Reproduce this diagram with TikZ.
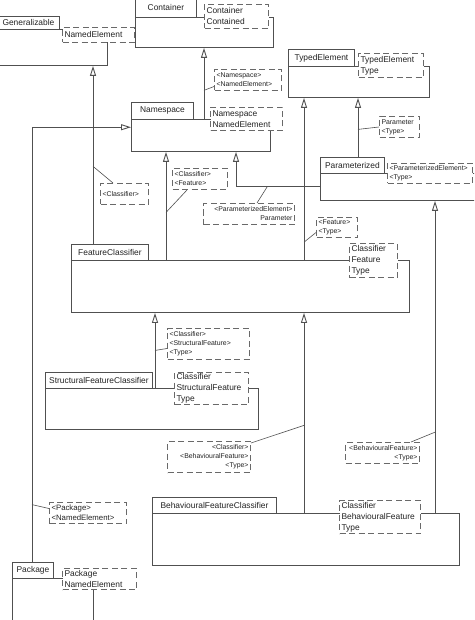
\documentclass[tikz,border=0pt]{standalone}
\usepackage{fontspec}
\setmainfont{Liberation Sans}
\usetikzlibrary{arrows.meta,calc}
\definecolor{linegray}{RGB}{80,80,80}
\definecolor{dashgray}{RGB}{105,105,105}
\definecolor{inkgray}{RGB}{35,35,35}
\newcommand{\clsfont}{\fontsize{8.4}{11}\selectfont}
\newcommand{\notefont}{\fontsize{6.9}{9}\selectfont}

\begin{document}
\begin{tikzpicture}[x=1pt,y=-1pt,
  body/.style={draw=linegray,fill=white,line width=0.9pt,anchor=north west,
    inner sep=0pt},
  tab/.style={body,font=\clsfont,text=inkgray,minimum height=16pt},
  tmpl/.style={draw=dashgray,fill=white,line width=1pt,
    dash pattern=on 6pt off 3.5pt,anchor=north west,inner xsep=2pt,
    inner ysep=0pt,align=left,font=\clsfont,text=inkgray},
  note/.style={tmpl,font=\notefont},
  gen/.style={draw=linegray,line width=0.9pt,
    -{Triangle[open,length=10pt,width=6pt]}},
  link/.style={draw=linegray,line width=0.6pt}]

\useasboundingbox (0,0) rectangle (474,620);
\fill[white] (0,0) rectangle (474,620);
\clip (0,0) rectangle (474,620);

% class bodies and name tabs
\node[body,minimum width=110pt,minimum height=36pt] (gen-body) at (-3,29) {};
\node[tab,minimum width=62pt,minimum height=13pt] (gen-tab) at (-3,16)
  {Generalizable};
\node[body,minimum width=138pt,minimum height=30pt] (ct-body) at (135,17) {};
\node[tab,minimum width=61pt,minimum height=20pt] (ct-tab) at (135,-3)
  {Container};
\node[body,minimum width=141pt,minimum height=31pt] (te-body) at (288,66) {};
\node[tab,minimum width=66pt,minimum height=17pt] (te-tab) at (288,49)
  {TypedElement};
\node[body,minimum width=139pt,minimum height=32pt] (ns-body) at (131,119) {};
\node[tab,minimum width=62pt,minimum height=17pt] (ns-tab) at (131,102)
  {Namespace};
\node[body,minimum width=170pt,minimum height=27pt] (par-body) at (320,173) {};
\node[tab,minimum width=64pt] (par-tab) at (320,157) {Parameterized};
\node[body,minimum width=338pt,minimum height=52pt] (fc-body) at (71,260) {};
\node[tab,minimum width=77pt] (fc-tab) at (71,244) {FeatureClassifier};
\node[body,minimum width=213pt,minimum height=41pt] (sfc-body) at (45,388) {};
\node[tab,minimum width=107pt] (sfc-tab) at (45,372)
  {StructuralFeatureClassifier};
\node[body,minimum width=307pt,minimum height=52pt] (bfc-body) at (152,513) {};
\node[tab,minimum width=124pt] (bfc-tab) at (152,497)
  {BehaviouralFeatureClassifier};
\node[body,minimum width=81pt,minimum height=50pt] (pkg-body) at (12,578) {};
\node[tab,minimum width=41pt] (pkg-tab) at (12,562) {Package};

% generalizations
\coordinate (fc-a) at ($(fc-tab.north west)+(22,0)$);
\coordinate (fc-b) at ($(fc-body.north west)+(95,0)$);
\coordinate (fc-c) at ($(fc-body.north west)+(233,0)$);
\coordinate (pkg-a) at ($(pkg-tab.north west)+(20,0)$);
\coordinate (ns-a) at ($(ns-body.north west)+(73,0)$);
\coordinate (par-a) at ($(par-tab.north west)+(38,0)$);
\coordinate (sfc-a) at ($(sfc-body.north west)+(110,0)$);
\coordinate (bfc-a) at ($(bfc-body.north west)+(152,0)$);
\coordinate (bfc-b) at ($(bfc-body.north west)+(283,0)$);

\draw[gen] (fc-a) -- (fc-a |- gen-body.south) coordinate[pos=0.436] (fc-a-tap);
\draw[gen] (pkg-a) |- ($(ns-body.north west)!0.25!(ns-body.south west)$)
  coordinate[pos=0.066] (pkg-a-tap);
\draw[gen] (ns-a) -- (ns-a |- ct-body.south) coordinate[pos=0.403] (ns-a-tap);
\draw[gen] (fc-b) -- (fc-b |- ns-body.south) coordinate[pos=0.44] (fc-b-tap);
\draw[gen] (par-body.west) -| ($(ns-body.south west)+(105,0)$)
  coordinate[pos=0.315] (par-w-tap);
\draw[gen] (fc-c) -- (fc-c |- te-body.south) coordinate[pos=0.11] (fc-c-tap);
\draw[gen] (par-a) -- (par-a |- te-body.south)
  coordinate[pos=0.467] (par-a-tap);
\draw[gen] (sfc-a) -- (sfc-a |- fc-body.south) coordinate[pos=0.5] (sfc-a-tap);
\draw[gen] (bfc-a) -- (bfc-a |- fc-body.south)
  coordinate[pos=0.438] (bfc-a-tap);
\draw[gen] (bfc-b) -- (bfc-b |- par-body.south)
  coordinate[pos=0.259] (bfc-b-tap);

% template parameter boxes
\node[tmpl,text width=68pt,minimum height=15pt] (gen-par) at (62,27)
  {NamedElement};
\node[tmpl,text width=60pt,minimum height=24pt] (ct-par) at (204,4)
  {Container\\Contained};
\node[tmpl,text width=61pt,minimum height=24pt] (te-par) at (358,53)
  {TypedElement\\Type};
\node[tmpl,text width=68pt,minimum height=23pt] (ns-par) at (210,107)
  {Namespace\\NamedElement};
\node[note,text width=81pt,minimum height=20pt] (par-par) at (387,163)
  {<ParameterizedElement>\\<Type>};
\node[tmpl,text width=44pt,minimum height=34pt] (fc-par) at (349,243)
  {Classifier\\Feature\\Type};
\node[tmpl,text width=70pt,minimum height=32pt] (sfc-par) at (174,372)
  {Classifier\\StructuralFeature\\Type};
\node[tmpl,text width=77pt,minimum height=33pt] (bfc-par) at (339,500)
  {Classifier\\BehaviouralFeature\\Type};
\node[tmpl,text width=70pt,minimum height=21pt] (pkg-par) at (62,568)
  {Package\\NamedElement};

% binding notes
\node[note,text width=44pt,minimum height=21pt] (n-fcgen) at (100,183)
  {<Classifier>};
\node[note,text width=51pt,minimum height=21pt] (n-fcns) at (172,168)
  {<Classifier>\\<Feature>};
\node[note,align=right,text width=87pt,minimum height=21pt] (n-parns)
  at (203,203) {<ParameterizedElement>\\Parameter};
\node[note,text width=63pt,minimum height=21pt] (n-nsct) at (214,69)
  {<Namespace>\\<NamedElement>};
\node[note,text width=36pt,minimum height=21pt] (n-parte) at (379,116)
  {Parameter\\<Type>};
\node[note,text width=37pt,minimum height=20pt] (n-fcte) at (316,217)
  {<Feature>\\<Type>};
\node[note,text width=78pt,minimum height=31pt] (n-sfc) at (167,328)
  {<Classifier>\\<StructuralFeature>\\<Type>};
\node[note,align=right,text width=79pt,minimum height=31pt] (n-bfc)
  at (167,441) {<Classifier>\\<BehaviouralFeature>\\<Type>};
\node[note,align=right,text width=70pt,minimum height=21pt] (n-bfcpar)
  at (345,442) {<BehaviouralFeature>\\<Type>};
\node[note,font=\fontsize{7.8}{10}\selectfont,text width=73pt,
  minimum height=21pt] (n-pkg) at (49,502) {<Package>\\<NamedElement>};

\draw[link] (fc-a-tap) -- ([xshift=13pt]n-fcgen.north west);
\draw[link] (fc-b-tap) -- ([xshift=15pt]n-fcns.south west);
\draw[link] (par-w-tap) -- ([xshift=54pt]n-parns.north west);
\draw[link] (ns-a-tap) -- ([yshift=-6.5pt]n-nsct.west);
\draw[link] (par-a-tap) -- (n-parte.west);
\draw[link] (fc-c-tap) -- ([yshift=-5pt]n-fcte.west);
\draw[link] (sfc-a-tap) -- ([yshift=-4.5pt]n-sfc.west);
\draw[link] (bfc-a-tap) -- ([yshift=-2pt]n-bfc.north east);
\draw[link] (bfc-b-tap) -- ([xshift=-9pt]n-bfcpar.north east);
\draw[link] (pkg-a-tap) -- ([yshift=4.5pt]n-pkg.west);
\end{tikzpicture}
\end{document}
